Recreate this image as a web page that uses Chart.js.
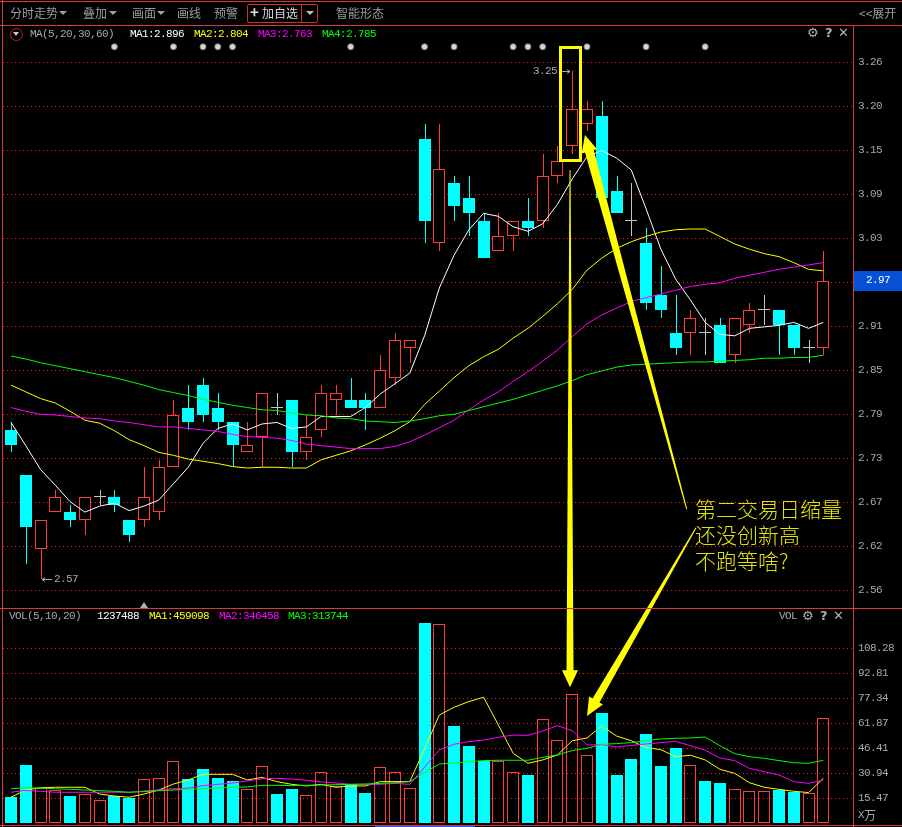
<!DOCTYPE html>
<html>
<head>
<meta charset="utf-8">
<title>K线</title>
<script src="https://cdn.jsdelivr.net/npm/chart.js@4/dist/chart.umd.min.js"></script>
<style>
html, body { margin: 0; padding: 0; background: #000; }
#wrap { position: relative; width: 902px; height: 827px; overflow: hidden; background: #000; }
#graph { position: absolute; left: 0; top: 0; }
#wrap span { position: absolute; white-space: pre; line-height: 14px; }
.bar { font: 12px "Noto Sans CJK SC", sans-serif; color: #9c9c9c; top: 6px; }
.num { font: 11px "Liberation Mono", monospace; letter-spacing: -0.6px; }
.gray { color: #a8a8a8; }
.tri { width: 0; height: 0; border-left: 4px solid transparent; border-right: 4px solid transparent; border-top: 4px solid #a0a0a0; }
.icon { font: 13px "DejaVu Sans", sans-serif; color: #b0b0b0; }
.note { font: 21px "Noto Sans CJK SC", sans-serif; font-weight: 300; color: #e4e400; left: 695px; }
#btn { position: absolute; left: 247px; top: 4px; width: 69px; height: 17px; border: 1px solid #d62c2c; border-radius: 2px; }
#sep { position: absolute; left: 301px; top: 4px; width: 1px; height: 18px; background: #d62c2c; }
#ring { position: absolute; left: 10px; top: 28px; width: 11px; height: 11px; border: 1px solid #c02020; border-radius: 50%; }
</style>
</head>
<body>
<div id="wrap">
	<canvas id="graph" width="902" height="827"></canvas>

	<span class="bar" style="left:10px">分时走势</span><i class="tri" style="position:absolute;left:59px;top:11px"></i>
	<span class="bar" style="left:83px">叠加</span><i class="tri" style="position:absolute;left:109px;top:11px"></i>
	<span class="bar" style="left:132px">画面</span><i class="tri" style="position:absolute;left:157px;top:11px"></i>
	<span class="bar" style="left:177px">画线</span>
	<span class="bar" style="left:214px">预警</span>
	<div id="btn"></div><div id="sep"></div>
	<span class="bar" style="left:250px;color:#e0e0e0;font-weight:700;font-size:15px;top:5px">+</span>
	<span class="bar" style="left:262px;color:#d8d8d8">加自选</span>
	<i class="tri" style="position:absolute;left:306px;top:11px;border-top-color:#c0c0c0"></i>
	<span class="bar" style="left:336px">智能形态</span>
	<span class="bar" style="left:859px">&lt;&lt;展开</span>

	<div id="ring"></div><i class="tri" style="position:absolute;left:13px;top:32px;border-left-width:3px;border-right-width:3px;border-top-color:#c8c8c8"></i>
	<span class="num gray" style="left:30px;top:27px">MA(5,20,30,60)</span>
	<span class="num" style="left:130px;top:27px;color:#fff">MA1:2.896</span>
	<span class="num" style="left:194px;top:27px;color:#ff0">MA2:2.804</span>
	<span class="num" style="left:258px;top:27px;color:#f0f">MA3:2.763</span>
	<span class="num" style="left:322px;top:27px;color:#0f0">MA4:2.785</span>
	<span class="icon" style="left:807px;top:26px">⚙</span>
	<span class="icon" style="left:825px;top:26px;font-weight:700">?</span>
	<span class="icon" style="left:838px;top:26px">✕</span>

	<span class="num gray" style="left:9px;top:609px">VOL(5,10,20)</span>
	<span class="num" style="left:97px;top:609px;color:#fff">1237488</span>
	<span class="num" style="left:149px;top:609px;color:#ff0">MA1:459098</span>
	<span class="num" style="left:219px;top:609px;color:#f0f">MA2:346458</span>
	<span class="num" style="left:288px;top:609px;color:#0f0">MA3:313744</span>
	<span class="num gray" style="left:779px;top:609px">VOL</span>
	<span class="icon" style="left:802px;top:609px">⚙</span>
	<span class="icon" style="left:820px;top:609px;font-weight:700">?</span>
	<span class="icon" style="left:833px;top:609px">✕</span>
	<span class="num gray" style="left:858px;top:808px">X</span>
	<span class="bar" style="left:864px;top:808px;color:#a8a8a8">万</span>

	<span class="note" style="top:501px">第二交易日缩量</span>
	<span class="note" style="top:527px">还没创新高</span>
	<span class="note" style="top:553px">不跑等啥?</span>
</div>

<script>
// daily candles
const opens = [2.77,2.71,2.61,2.66,2.66,2.65,2.68,2.68,2.65,2.65,2.66,2.72,2.80,2.83,2.80,2.78,2.74,2.76,2.80,2.81,2.74,2.77,2.81,2.81,2.81,2.80,2.84,2.88,3.16,3.02,3.10,3.08,3.05,3.01,3.03,3.05,3.05,3.11,3.15,3.18,3.19,3.09,3.05,3.02,2.95,2.90,2.90,2.90,2.91,2.87,2.91,2.93,2.93,2.91,2.88,2.88];
const closes = [2.75,2.64,2.65,2.68,2.65,2.68,2.68,2.67,2.63,2.68,2.72,2.79,2.78,2.79,2.78,2.75,2.75,2.82,2.80,2.74,2.76,2.82,2.82,2.80,2.80,2.85,2.89,2.89,3.05,3.12,3.07,3.06,3.00,3.03,3.05,3.04,3.11,3.13,3.20,3.20,3.08,3.06,3.05,2.94,2.93,2.88,2.92,2.90,2.86,2.92,2.93,2.93,2.91,2.88,2.88,2.97];
const highs = [2.78,2.71,2.65,2.69,2.67,2.68,2.69,2.69,2.65,2.72,2.73,2.81,2.83,2.84,2.82,2.78,2.78,2.82,2.82,2.81,2.79,2.83,2.83,2.84,2.82,2.87,2.90,2.89,3.18,3.18,3.11,3.11,3.06,3.06,3.05,3.08,3.14,3.15,3.25,3.21,3.21,3.11,3.10,3.04,2.99,2.95,2.93,2.92,2.92,2.92,2.94,2.95,2.93,2.91,2.89,3.01];
const lows = [2.74,2.59,2.57,2.66,2.64,2.63,2.67,2.66,2.62,2.64,2.65,2.72,2.77,2.78,2.77,2.72,2.74,2.72,2.79,2.72,2.73,2.76,2.79,2.80,2.77,2.80,2.83,2.86,3.02,3.01,3.05,3.03,3.00,3.01,3.01,3.03,3.04,3.10,3.14,3.17,3.06,3.06,3.03,2.93,2.92,2.87,2.87,2.87,2.86,2.86,2.90,2.91,2.87,2.87,2.86,2.87];

// price moving averages
const ma5 = [2.780,2.749,2.717,2.696,2.674,2.660,2.668,2.672,2.662,2.668,2.676,2.698,2.720,2.752,2.772,2.778,2.770,2.778,2.780,2.772,2.774,2.788,2.788,2.788,2.800,2.818,2.832,2.846,2.896,2.960,3.004,3.038,3.060,3.056,3.042,3.036,3.046,3.072,3.106,3.136,3.144,3.134,3.118,3.066,3.012,2.972,2.944,2.914,2.898,2.896,2.906,2.908,2.910,2.914,2.906,2.914];
const ma20 = [2.830,2.821,2.812,2.806,2.795,2.783,2.779,2.769,2.757,2.749,2.740,2.736,2.731,2.728,2.725,2.721,2.719,2.720,2.720,2.719,2.719,2.730,2.736,2.742,2.750,2.759,2.769,2.781,2.804,2.822,2.840,2.856,2.868,2.878,2.893,2.906,2.922,2.939,2.958,2.984,3.000,3.013,3.022,3.029,3.035,3.038,3.039,3.039,3.029,3.019,3.012,3.006,3.002,2.994,2.985,2.983];
const ma30 = [2.800,2.795,2.791,2.790,2.788,2.786,2.785,2.782,2.780,2.777,2.774,2.774,2.772,2.770,2.768,2.764,2.761,2.760,2.759,2.756,2.751,2.749,2.747,2.745,2.745,2.745,2.748,2.754,2.763,2.773,2.783,2.797,2.810,2.821,2.835,2.848,2.862,2.877,2.895,2.912,2.924,2.933,2.942,2.947,2.952,2.957,2.962,2.965,2.967,2.973,2.977,2.981,2.985,2.988,2.991,2.994];
const ma60 = [2.869,2.865,2.860,2.856,2.852,2.848,2.844,2.840,2.835,2.830,2.824,2.820,2.816,2.811,2.807,2.803,2.800,2.797,2.796,2.793,2.790,2.789,2.786,2.785,2.782,2.781,2.780,2.782,2.785,2.789,2.791,2.796,2.801,2.806,2.811,2.817,2.823,2.829,2.836,2.844,2.849,2.854,2.857,2.858,2.859,2.860,2.861,2.861,2.862,2.863,2.864,2.866,2.866,2.867,2.867,2.870];

// volume in units of 10k shares, 1 = red hollow bar
const volumes = [16.3,36.1,21.6,20.6,16.9,17.9,14.2,17.1,15.9,27.2,27.8,38.3,27.4,33.6,28.0,26.2,21.0,35.2,18.1,21.2,17.3,31.5,22.9,24.3,18.8,34.6,31.5,21.6,123.75,123.1,60.2,47.8,38.3,38.8,31.5,29.9,64.3,51.3,79.8,42.1,68.3,29.9,39.8,55.3,35.5,46.6,35.9,26.2,24.9,21.0,19.8,19.8,20.8,19.6,18.5,65.0];
const volUp = [0,0,1,1,0,1,1,0,0,1,1,1,0,0,0,0,1,1,0,0,1,1,1,0,0,1,1,1,0,1,0,0,0,1,1,0,1,1,1,1,0,0,0,0,0,0,1,0,0,1,1,1,0,0,1,1];
const volMa5 = [16.1,20.6,22.0,22.3,22.3,22.3,18.1,16.9,16.1,18.1,20.6,24.3,26.8,30.3,30.3,30.3,26.8,28.4,25.8,24.1,23.1,24.1,22.3,23.1,23.1,25.8,25.8,25.8,45.91,67.0,71.8,75.3,78.0,60.8,43.3,37.1,39.2,42.3,51.1,52.8,60.2,54.0,51.1,46.8,45.6,41.2,42.1,39.2,33.4,30.9,25.1,22.3,21.0,19.8,19.0,27.8];
const volMa10 = [19.2,20.4,19.8,19.2,19.2,19.2,19.2,19.2,19.2,20.0,20.6,21.4,21.8,23.3,24.1,24.9,26.2,27.6,27.8,27.4,26.6,25.6,24.9,24.1,24.1,24.1,24.7,24.1,34.65,45.4,48.9,50.5,51.5,53.2,54.6,54.4,57.1,60.4,57.3,48.4,48.7,47.2,48.2,49.1,49.9,50.7,48.0,45.2,40.4,38.8,34.0,31.9,29.9,25.8,24.7,26.8];
const volMa20 = [21.4,22.0,21.8,21.4,21.0,20.6,20.2,19.8,19.2,19.6,20.2,20.6,21.0,21.4,21.8,22.3,22.5,23.5,23.5,23.3,23.5,23.7,23.9,24.1,24.3,24.7,25.1,25.8,31.37,36.7,37.3,38.1,38.8,39.0,39.0,39.0,40.8,42.3,45.0,46.4,48.9,49.3,49.9,51.1,52.2,52.6,52.8,53.4,48.0,43.1,41.2,40.2,38.8,37.5,37.1,39.0];

// signal stars along the top of the price pane
const starDays = [7,11,13,14,15,23,28,30,34,35,36,39,43,47];
const starLevel = 3.283;

// axis ticks, the price grid is evenly spaced so the printed value is rounded
const priceTicks = [3.2622,3.2033,3.1444,3.0855,3.0266,2.9677,2.9087,2.8498,2.7909,2.7320,2.6731,2.6142,2.5553];
const priceLabels = ['3.26','3.20','3.15','3.09','3.03','2.97','2.91','2.85','2.79','2.73','2.67','2.62','2.56'];
const volTicks = [108.28,92.81,77.34,61.87,46.41,30.94,15.47];
const volLabels = ['108.28','92.81','77.34','61.87','46.41','30.94','15.47'];

const CYAN = '#00ffff';
const RED = '#ff3b3b';
const DOJI = '#c4c4c4';
const LINE_RED = '#d83a3a';
const GRID_RED = '#f02020';
const TEXT_GRAY = '#a8a8a8';
const YELLOW = '#ffff00';
const MONO = '11px "Liberation Mono", monospace';

const days = opens.map((_, i) => i);
const candleColor = days.map(i => closes[i] > opens[i] ? RED : closes[i] < opens[i] ? CYAN : DOJI);
const bodyFill = days.map(i => closes[i] > opens[i] ? '#000000' : candleColor[i]);

function series(values) {
	return values.map((v, i) => ({ x: i, y: v }));
}

function lineSet(values, color, axis) {
	return {
		type: 'line',
		data: series(values),
		yAxisID: axis,
		borderColor: color,
		borderWidth: 1,
		pointRadius: 0,
		tension: 0,
		order: 2
	};
}

// snap bars to whole pixels so wicks and outlines stay one pixel wide
const snapBars = {
	id: 'snapBars',
	afterDatasetsUpdate(chart) {
		chart.data.datasets.forEach((ds, k) => {
			if (ds.type !== 'bar') return;
			chart.getDatasetMeta(k).data.forEach(el => {
				el.x = Math.round(el.x) + (ds.barThickness % 2 ? 0.5 : 0);
				el.y = Math.round(el.y);
				el.base = Math.round(el.base);
				if (el.y === el.base) el.y = el.base - 1;
			});
		});
	}
};

// tapered arrow: one pixel at the tail, widening to the neck, then the head
function drawArrow(ctx, x0, y0, x1, y1, neck, headW, headL) {
	const len = Math.hypot(x1 - x0, y1 - y0);
	const ux = (x1 - x0) / len, uy = (y1 - y0) / len;
	const nx = -uy, ny = ux;
	const bx = x1 - ux * headL, by = y1 - uy * headL;
	ctx.beginPath();
	ctx.moveTo(x0 + nx * 0.5, y0 + ny * 0.5);
	ctx.lineTo(bx + nx * neck / 2, by + ny * neck / 2);
	ctx.lineTo(bx + nx * headW / 2, by + ny * headW / 2);
	ctx.lineTo(x1, y1);
	ctx.lineTo(bx - nx * headW / 2, by - ny * headW / 2);
	ctx.lineTo(bx - nx * neck / 2, by - ny * neck / 2);
	ctx.lineTo(x0 - nx * 0.5, y0 - ny * 0.5);
	ctx.closePath();
	ctx.fill();
}

const overlay = {
	id: 'overlay',
	beforeDraw(chart) {
		chart.ctx.letterSpacing = '-0.6px';
	},
	afterDatasetsDraw(chart) {
		const { ctx, scales } = chart;
		const X = v => scales.x.getPixelForValue(v);
		const P = v => scales.y.getPixelForValue(v);
		const V = v => scales.vol.getPixelForValue(v);
		ctx.save();

		// high and low marks
		ctx.strokeStyle = TEXT_GRAY;
		ctx.fillStyle = TEXT_GRAY;
		ctx.font = MONO;
		ctx.textBaseline = 'middle';
		ctx.lineWidth = 1;
		const hy = Math.round(P(highs[38])) + 0.5;
		const hx = Math.round(X(38)) - 2;
		ctx.textAlign = 'right';
		ctx.fillText(highs[38].toFixed(2), hx - 13, hy);
		ctx.beginPath();
		ctx.moveTo(hx - 11, hy);
		ctx.lineTo(hx, hy);
		ctx.moveTo(hx - 3, hy - 2);
		ctx.lineTo(hx, hy);
		ctx.lineTo(hx - 3, hy + 2);
		ctx.stroke();
		const ly = Math.round(P(lows[2])) + 0.5;
		const lx = Math.round(X(2)) + 1;
		ctx.textAlign = 'left';
		ctx.fillText(lows[2].toFixed(2), lx + 12, ly);
		ctx.beginPath();
		ctx.moveTo(lx + 10, ly);
		ctx.lineTo(lx, ly);
		ctx.moveTo(lx + 3, ly - 2);
		ctx.lineTo(lx, ly);
		ctx.lineTo(lx + 3, ly + 2);
		ctx.stroke();

		// yellow notes: box around the high day, arrows to the two volume bars
		ctx.strokeStyle = YELLOW;
		ctx.lineWidth = 3;
		ctx.strokeRect(Math.round(X(37.87)) - 9.5, Math.round(P(3.283)) + 0.5, 20, Math.round(P(3.131)) - Math.round(P(3.283)));
		ctx.fillStyle = YELLOW;
		drawArrow(ctx, X(37.85), P(3.118), X(37.85), V(84.2), 7, 16, 17);
		drawArrow(ctx, X(45.75), P(2.664), X(38.86), P(3.165), 9, 16, 17);
		drawArrow(ctx, X(46.38), P(2.639), X(39.0), V(66.4), 8, 16, 18);
		ctx.restore();
	},
	afterDraw(chart) {
		const { ctx, scales, chartArea } = chart;
		const W = chart.width, H = chart.height;
		ctx.save();

		// current price tag
		const tagY = scales.y.getPixelForValue(closes[closes.length - 1]);
		ctx.fillStyle = '#0550d4';
		ctx.fillRect(854, Math.round(tagY) - 10, W - 854, 20);
		ctx.fillStyle = '#ffffff';
		ctx.font = MONO;
		ctx.textAlign = 'left';
		ctx.textBaseline = 'middle';
		ctx.fillText(closes[closes.length - 1].toFixed(2), 866, tagY);

		// pane frame
		ctx.strokeStyle = LINE_RED;
		ctx.lineWidth = 1;
		ctx.beginPath();
		[1, 25, scales.y.bottom, scales.vol.bottom].forEach(y => {
			ctx.moveTo(0, Math.round(y) + 0.5);
			ctx.lineTo(W, Math.round(y) + 0.5);
		});
		ctx.moveTo(2.5, 0);
		ctx.lineTo(2.5, H);
		ctx.moveTo(chartArea.right + 0.5, 25);
		ctx.lineTo(chartArea.right + 0.5, H);
		ctx.stroke();

		// scroll marker under the volume pane, cursor mark above it
		ctx.fillStyle = '#2a50e0';
		ctx.fillRect(375, 826, 100, 1);
		const cx = Math.round(scales.x.getPixelForValue(9));
		ctx.fillStyle = '#b0b0b0';
		ctx.beginPath();
		ctx.moveTo(cx, 602);
		ctx.lineTo(cx + 4, 608);
		ctx.lineTo(cx - 4, 608);
		ctx.closePath();
		ctx.fill();
		ctx.restore();
	}
};

function yAxis(min, max, weight, ticks, labels) {
	return {
		type: 'linear',
		position: 'right',
		stack: 'panes',
		stackWeight: weight,
		min: min,
		max: max,
		afterFit: s => { s.width = 49; s.paddingTop = 0; s.paddingBottom = 0; },
		afterBuildTicks: s => { s.ticks = ticks.map(v => ({ value: v })); },
		grid: { color: GRID_RED, lineWidth: 1, drawTicks: false },
		border: { display: false, dash: [1, 3] },
		ticks: {
			autoSkip: false,
			padding: 5,
			color: TEXT_GRAY,
			font: { family: '"Liberation Mono", monospace', size: 11 },
			callback: (value, index) => labels[index]
		}
	};
}

const ctx = document.getElementById('graph').getContext('2d');

new Chart(ctx, {
	data: {
		datasets: [
			{
				type: 'bar',
				data: days.map(i => ({ x: i, y: [lows[i], highs[i]] })),
				yAxisID: 'y',
				barThickness: 1,
				grouped: false,
				inflateAmount: 0,
				borderWidth: 0,
				backgroundColor: candleColor,
				order: 6
			},
			{
				type: 'bar',
				data: days.map(i => ({ x: i, y: [opens[i], closes[i]] })),
				yAxisID: 'y',
				barThickness: 12,
				grouped: false,
				inflateAmount: 0,
				borderWidth: 1,
				borderSkipped: false,
				borderColor: candleColor,
				backgroundColor: bodyFill,
				order: 5
			},
			{
				type: 'bar',
				data: series(volumes),
				yAxisID: 'vol',
				barThickness: 12,
				grouped: false,
				inflateAmount: 0,
				borderWidth: 1,
				borderSkipped: false,
				borderColor: volUp.map(u => u ? RED : CYAN),
				backgroundColor: volUp.map(u => u ? 'transparent' : CYAN),
				order: 5
			},
			lineSet(ma60, '#00ff00', 'y'),
			lineSet(ma30, '#ff00ff', 'y'),
			lineSet(ma20, '#ffff00', 'y'),
			lineSet(ma5, '#ffffff', 'y'),
			lineSet(volMa20, '#00ff00', 'vol'),
			lineSet(volMa10, '#ff00ff', 'vol'),
			lineSet(volMa5, '#ffff00', 'vol'),
			{
				type: 'scatter',
				data: starDays.map(d => ({ x: d, y: starLevel })),
				yAxisID: 'y',
				pointStyle: 'circle',
				pointRadius: 3,
				pointBorderWidth: 1,
				pointBorderColor: '#808080',
				pointBackgroundColor: '#d8d8d8',
				order: 1
			}
		]
	},
	options: {
		responsive: false,
		animation: false,
		events: [],
		layout: { autoPadding: false, padding: { left: 3, right: 0, top: 26, bottom: 2 } },
		plugins: { legend: { display: false }, tooltip: { enabled: false } },
		scales: {
			x: { type: 'linear', display: false, offset: false, min: -0.5416, max: 57.01 },
			y: yAxis(2.5316, 3.3108, 582, priceTicks, priceLabels),
			vol: yAxis(-1.05, 133.2, 217, volTicks, volLabels)
		}
	},
	plugins: [snapBars, overlay]
});
</script>
</body>
</html>
